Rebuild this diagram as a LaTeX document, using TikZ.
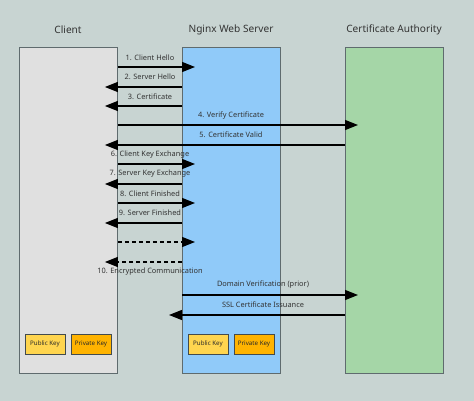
\documentclass[tikz,border=0pt]{standalone}
\usepackage{fontspec}
\setmainfont{Noto Sans}
\usetikzlibrary{arrows.meta,calc}
\definecolor{bg}{HTML}{C8D4D2}
\definecolor{clientc}{HTML}{E0E0E0}
\definecolor{serverc}{HTML}{90CAF9}
\definecolor{cac}{HTML}{A5D6A7}
\definecolor{edgec}{HTML}{5F6B6E}
\definecolor{txt}{HTML}{333333}
\definecolor{pubc}{HTML}{FFD54F}
\definecolor{privc}{HTML}{FFB300}
\begin{document}
\begin{tikzpicture}[x=1pt,y=-1pt,
  lane/.style={draw=edgec,line width=0.9pt,minimum width=98pt,minimum height=326pt,inner sep=0pt,anchor=north west},
  title/.style={font=\fontsize{10.1}{12}\selectfont,text=txt},
  lbl/.style={font=\fontsize{7.4}{8}\selectfont,text=txt,inner sep=1pt},
  msg/.style={line width=1.2pt,-{Triangle[length=13pt,width=10pt]}},
  dmsg/.style={msg,dash pattern=on 4pt off 3pt},
  keybox/.style={draw=edgec!70!black,line width=0.8pt,minimum width=40pt,minimum height=20pt,inner sep=0pt,font=\fontsize{6.2}{7}\selectfont,text=txt!80!black}]
\fill[bg] (0,0) rectangle (474,401);
\useasboundingbox (0,0) rectangle (474,401);
\node[lane,fill=clientc] (client) at (19,47) {};
\node[lane,fill=serverc] (server) at (182,47) {};
\node[lane,fill=cac] (ca) at (345,47) {};
\node[title] (tclient) at (68,30) {Client};
\node[title] (tserver) at (231,30) {Nginx Web Server};
\node[title] (tca) at (394,30) {Certificate Authority};
% messages
\draw[msg] (client.east |- 0,67) -- (server.west |- 0,67) -- ++(13,0) coordinate (m1e);
\node[lbl] (l1) at (150,58) {1. Client Hello};
\draw[msg] (server.west |- 0,87) -- (client.east |- 0,87) -- ++(-13,0) coordinate (m2e);
\node[lbl] (l2) at (150,77) {2. Server Hello};
\draw[msg] (server.west |- 0,106) -- (client.east |- 0,106) -- ++(-13,0) coordinate (m3e);
\node[lbl] (l3) at (150,97) {3. Certificate};
\draw[msg] (client.east |- 0,125) -- (ca.west |- 0,125) -- ++(13,0) coordinate (m4e);
\node[lbl] (l4) at (231,116) {4. Verify Certificate};
\draw[msg] (ca.west |- 0,145) -- (client.east |- 0,145) -- ++(-13,0) coordinate (m5e);
\node[lbl] (l5) at (231,135) {5. Certificate Valid};
\draw[msg] (client.east |- 0,164) -- (server.west |- 0,164) -- ++(13,0) coordinate (m6e);
\node[lbl] (l6) at (150,155) {6. Client Key Exchange};
\draw[msg] (server.west |- 0,184) -- (client.east |- 0,184) -- ++(-13,0) coordinate (m7e);
\node[lbl] (l7) at (150,174) {7. Server Key Exchange};
\draw[msg] (client.east |- 0,203) -- (server.west |- 0,203) -- ++(13,0) coordinate (m8e);
\node[lbl] (l8) at (150,194) {8. Client Finished};
\draw[msg] (server.west |- 0,223) -- (client.east |- 0,223) -- ++(-13,0) coordinate (m9e);
\node[lbl] (l9) at (150,213) {9. Server Finished};
\draw[dmsg] (client.east |- 0,242) -- (server.west |- 0,242) -- ++(13,0) coordinate (m10e);
\draw[dmsg] (server.west |- 0,262) -- (client.east |- 0,262) -- ++(-13,0) coordinate (m11e);
\node[lbl] (l10) at (150,272) {10. Encrypted Communication};
\draw[msg] (server.west |- 0,295) -- (ca.west |- 0,295) -- ++(13,0) coordinate (m12e);
\node[lbl] (l12) at (263,285) {Domain Verification (prior)};
\draw[msg] (ca.west |- 0,315) -- (server.west |- 0,315) -- ++(-13,0) coordinate (m13e);
\node[lbl] (l13) at (263,305) {SSL Certificate Issuance};
% keys
\node[keybox,fill=pubc] (cpub) at (45,344) {Public Key};
\node[keybox,fill=privc] (cpriv) at (91,344) {Private Key};
\node[keybox,fill=pubc] (spub) at (208,344) {Public Key};
\node[keybox,fill=privc] (spriv) at (254,344) {Private Key};
\end{tikzpicture}
\end{document}
